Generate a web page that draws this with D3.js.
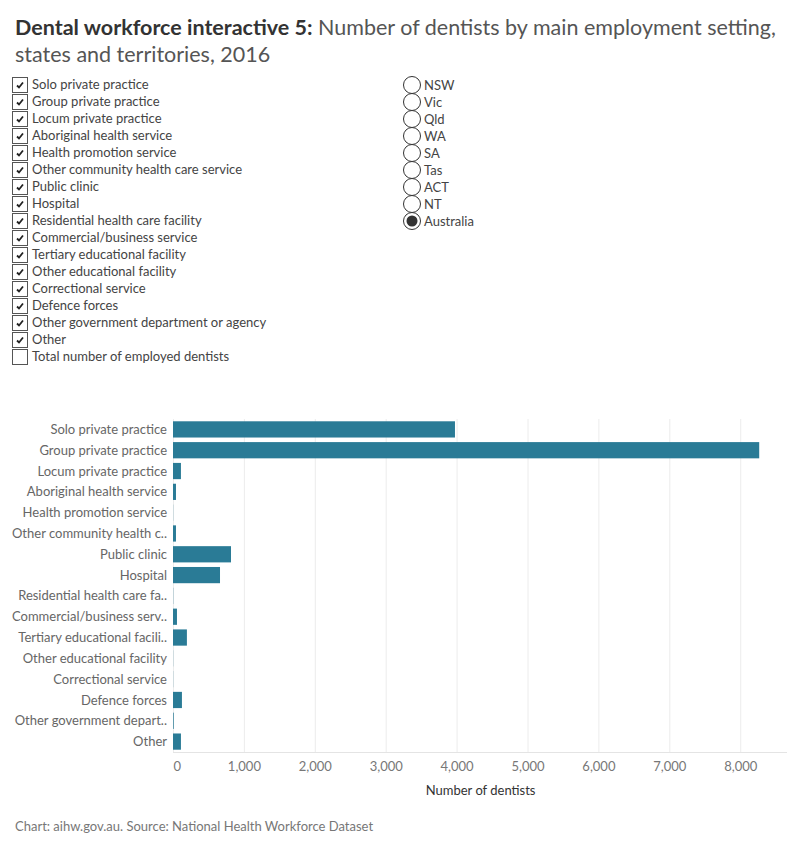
<!DOCTYPE html>
<html>
<head>
<meta charset="utf-8">
<script src="https://cdn.jsdelivr.net/npm/d3@7"></script>
<style>
  body { margin: 0; background: #fff; font-family: Lato, "Open Sans", sans-serif; }
</style>
</head>
<body>
<svg id="chart" width="800" height="850"></svg>
<script>
// employment settings (filter list + chart rows)
var settings = ["Solo private practice", "Group private practice", "Locum private practice",
    "Aboriginal health service", "Health promotion service", "Other community health care service",
    "Public clinic", "Hospital", "Residential health care facility", "Commercial/business service",
    "Tertiary educational facility", "Other educational facility", "Correctional service",
    "Defence forces", "Other government department or agency", "Other"];
// labels as they appear (truncated) on the chart axis
var axisLabels = ["Solo private practice", "Group private practice", "Locum private practice",
    "Aboriginal health service", "Health promotion service", "Other community health c..",
    "Public clinic", "Hospital", "Residential health care fa..", "Commercial/business serv..",
    "Tertiary educational facili..", "Other educational facility", "Correctional service",
    "Defence forces", "Other government depart..", "Other"];
// Australia, 2016
var dentists = [3977, 8268, 112, 42, 2, 42, 818, 663, 3, 56, 196, 2, 2, 126, 10, 112];
var states = ["NSW", "Vic", "Qld", "WA", "SA", "Tas", "ACT", "NT", "Australia"];
var selectedState = "Australia";
var xTicks = [0, 1000, 2000, 3000, 4000, 5000, 6000, 7000, 8000];

var svg = d3.select("#chart");

// title
var title = svg.append("text").attr("x", 15).attr("y", 35)
    .style("font-size", "21.5px").style("fill", "#333");
title.append("tspan").style("font-weight", "bold").text("Dental workforce interactive 5:");
title.append("tspan").style("fill", "#555").text(" Number of dentists by main employment setting,");
svg.append("text").attr("x", 15).attr("y", 62)
    .style("font-size", "21.5px").style("fill", "#555")
    .text("states and territories, 2016");

// checkbox filter
var checkItems = settings.concat(["Total number of employed dentists"]);
var cb = svg.append("g").selectAll("g").data(checkItems).enter().append("g")
    .attr("transform", function(d, i) { return "translate(12," + (77 + i * 17) + ")"; });
cb.append("rect").attr("x", 0.5).attr("y", 0.5).attr("width", 15).attr("height", 15)
    .attr("fill", "#fff").attr("stroke", "#555").attr("stroke-width", 1);
cb.filter(function(d) { return d != "Total number of employed dentists"; })
    .append("path").attr("d", "M5,8.5 L7,10.5 L11,5.5")
    .attr("fill", "none").attr("stroke", "#222").attr("stroke-width", 1.8);
cb.append("text").attr("x", 20).attr("y", 12)
    .style("font-size", "13px").style("fill", "#444").text(function(d) { return d; });

// radio filter
var rb = svg.append("g").selectAll("g").data(states).enter().append("g")
    .attr("transform", function(d, i) { return "translate(412," + (85 + i * 17) + ")"; });
rb.append("circle").attr("r", 8.5).attr("fill", "#fff").attr("stroke", "#333").attr("stroke-width", 1);
rb.filter(function(d) { return d == selectedState; })
    .append("circle").attr("r", 5.5).attr("fill", "#333");
rb.append("text").attr("x", 12).attr("y", 4.5)
    .style("font-size", "13px").style("fill", "#444").text(function(d) { return d; });

// bar chart
var x = d3.scaleLinear().domain([0, 8660]).range([173, 787]);
var y = d3.scaleBand().domain(settings).range([419, 752]).paddingInner(0.22).paddingOuter(0.11);

var grid = svg.append("g");
grid.selectAll("line").data(xTicks).enter().append("line")
    .attr("x1", function(d) { return x(d) + 0.5; }).attr("x2", function(d) { return x(d) + 0.5; })
    .attr("y1", 419).attr("y2", 752)
    .attr("stroke", "#ececec").attr("stroke-width", 1);
svg.append("line").attr("x1", 173).attr("x2", 787).attr("y1", 752.5).attr("y2", 752.5)
    .attr("stroke", "#e4e4e4");

svg.append("g").selectAll("rect").data(dentists).enter().append("rect")
    .attr("x", x(0))
    .attr("y", function(d, i) { return y(settings[i]); })
    .attr("width", function(d) { return x(d) - x(0); })
    .attr("height", y.bandwidth())
    .attr("fill", "#2a7b96");

svg.append("g").selectAll("text").data(axisLabels).enter().append("text")
    .attr("x", 167)
    .attr("y", function(d, i) { return y(settings[i]) + y.bandwidth() / 2; })
    .attr("dy", "0.35em").attr("text-anchor", "end")
    .style("font-size", "13px").style("fill", "#666")
    .text(function(d) { return d; });

var xAxis = svg.append("g").attr("transform", "translate(0,752)")
    .call(d3.axisBottom(x).tickValues(xTicks).tickSize(0).tickPadding(10).tickFormat(d3.format(",")));
xAxis.select(".domain").remove();
xAxis.selectAll("text").style("font-size", "13px").style("fill", "#777")
    .style("font-family", "Lato, sans-serif");
xAxis.selectAll(".tick").filter(function(d) { return d == 0; }).select("text")
    .attr("text-anchor", "start").attr("dx", 0);

svg.append("text").attr("x", x(4000) + 24).attr("y", 795).attr("text-anchor", "middle")
    .style("font-size", "13px").style("fill", "#333").text("Number of dentists");

svg.append("text").attr("x", 15).attr("y", 831)
    .style("font-size", "13px").style("fill", "#777")
    .text("Chart: aihw.gov.au. Source: National Health Workforce Dataset");
</script>
</body>
</html>
